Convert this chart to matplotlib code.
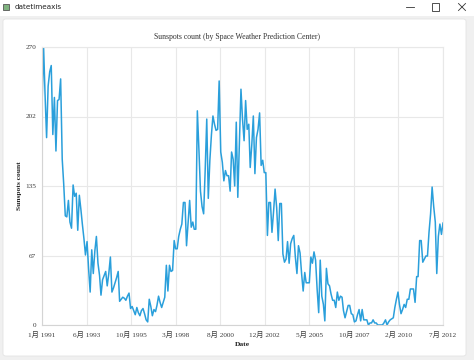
"""
Sunspots count over time, drawn the way the Qt datetimeaxis demo window looks.
"""

import numpy as np
import pandas as pd
import matplotlib
matplotlib.use('Agg')
import matplotlib.pyplot as plt
import matplotlib.dates as mdates
from matplotlib.patches import Rectangle, FancyBboxPatch
from matplotlib.lines import Line2D
from matplotlib.ticker import FuncFormatter, FixedLocator

plt.rcParams['font.family'] = ['Liberation Serif', 'Noto Sans CJK SC']

# monthly sunspot counts, Jan 1991 .. Jul 2012
START_MONTH = '1991-01-01'
COUNTS = [
    213, 270, 225, 182, 232, 246, 252, 185, 221, 169, 218, 219,
    239, 161, 137, 106, 105, 121, 100, 94, 136, 125, 128, 92,
    126, 112, 98, 84, 68, 81, 55, 32, 73, 50, 72, 86,
    60, 48, 29, 44, 48, 52, 38, 50, 66, 32, 36, 41,
    46, 52, 23, 25, 27, 26, 24, 28, 31, 16, 18, 14,
    10, 17, 12, 9, 14, 16, 11, 5, 3, 25, 18, 9,
    15, 13, 19, 28, 22, 17, 22, 27, 58, 33, 58, 52,
    53, 82, 74, 74, 86, 93, 98, 119, 119, 77, 100, 121,
    95, 100, 93, 93, 208, 170, 130, 115, 108, 150, 200, 123,
    160, 185, 203, 195, 189, 190, 237, 168, 158, 140, 150, 145,
    145, 130, 168, 161, 135, 197, 124, 175, 229, 200, 179, 218,
    190, 195, 153, 175, 203, 147, 182, 190, 206, 155, 160, 148,
    148, 87, 119, 119, 90, 110, 132, 114, 82, 118, 118, 69,
    61, 64, 81, 60, 79, 84, 87, 66, 50, 77, 70, 50,
    33, 51, 41, 41, 41, 66, 60, 71, 63, 35, 12, 63,
    28, 20, 4, 55, 40, 38, 30, 24, 24, 17, 32, 24,
    28, 27, 14, 7, 13, 19, 19, 11, 10, 3, 4, 10,
    15, 4, 15, 5, 5, 5, 0, 2, 2, 5, 2, 2,
    0, 0, 0, 0, 2, 5, 0, 3, 5, 6, 7, 17,
    25, 32, 20, 11, 15, 20, 17, 25, 25, 35, 35, 35,
    22, 47, 47, 82, 82, 61, 64, 67, 67, 90, 108, 134,
    115, 100, 50, 86, 98, 88, 99,
]
Y_MAX = 270
Y_TICK_COUNT = 5
X_TICK_COUNT = 10

TITLE = 'Sunspots count (by Space Weather Prediction Center)'
X_TITLE = 'Date'
Y_TITLE = 'Sunspots count'
WINDOW_TITLE = 'datetimeaxis'

W, H = 474, 360
LINE_COLOR = '#2a9fdb'
GRID_COLOR = '#e8e8e8'
LABEL_COLOR = '#3c3c3c'


def fx(x):
    return x / W


def fy(y):
    return 1 - y / H


# every point sits on the 15th of its month
dates = pd.date_range(START_MONTH, periods=len(COUNTS), freq='MS') + pd.Timedelta(days=14)

fig = plt.figure(figsize=(W / 100, H / 100), dpi=100)
fig.patch.set_facecolor('white')

# window frame: title bar, grey client area, white chart card
fig.patches.append(Rectangle((0, 0), 1, fy(16), transform=fig.transFigure,
                             facecolor='#f0f0f0', edgecolor='none', zorder=-10))
fig.patches.append(FancyBboxPatch((fx(3), fy(356)), fx(463), (356 - 19) / H,
                                  boxstyle='round,pad=0,rounding_size=0.006',
                                  transform=fig.transFigure, facecolor='white',
                                  edgecolor='#e4e4e4', linewidth=0.6, zorder=-9))
fig.patches.append(Rectangle((fx(3), fy(10)), fx(6), 6 / H, transform=fig.transFigure,
                             facecolor='#7fb27f', edgecolor='#555555', linewidth=0.6))
fig.text(fx(15), fy(7), WINDOW_TITLE, family='DejaVu Sans', fontsize=5.2,
         color='#222222', va='center', ha='left')
fig.lines.append(Line2D([fx(406), fx(414)], [fy(7), fy(7)], transform=fig.transFigure,
                        color='#333333', linewidth=0.6))
fig.patches.append(Rectangle((fx(431.5), fy(10.5)), fx(7), 7 / H, transform=fig.transFigure,
                             facecolor='none', edgecolor='#333333', linewidth=0.6))
fig.lines.append(Line2D([fx(458.5), fx(465.5)], [fy(3.5), fy(10.5)], transform=fig.transFigure,
                        color='#333333', linewidth=0.6))
fig.lines.append(Line2D([fx(458.5), fx(465.5)], [fy(10.5), fy(3.5)], transform=fig.transFigure,
                        color='#333333', linewidth=0.6))

# chart
ax = fig.add_axes([fx(42), fy(325), fx(401), 278 / H])
ax.set_facecolor('none')
ax.plot(dates, COUNTS, color=LINE_COLOR, linewidth=1.1)

x0, x1 = mdates.date2num(dates[0]), mdates.date2num(dates[-1])
ax.set_xlim(x0, x1)
ax.set_ylim(0, Y_MAX)

ax.xaxis.set_major_locator(FixedLocator(np.linspace(x0, x1, X_TICK_COUNT)))
ax.xaxis.set_major_formatter(FuncFormatter(
    lambda v, p: '%d月 %d' % (mdates.num2date(v).month, mdates.num2date(v).year)))
ax.yaxis.set_major_locator(FixedLocator(np.linspace(0, Y_MAX, Y_TICK_COUNT)))
ax.yaxis.set_major_formatter(FuncFormatter(lambda v, p: '%i' % int(v)))

ax.grid(True, color=GRID_COLOR, linewidth=0.8)
ax.set_axisbelow(True)
for side, sp in ax.spines.items():
    sp.set_color(GRID_COLOR if side in ('top', 'right') else '#d4d4d4')
    sp.set_linewidth(0.8)
ax.tick_params(length=0, pad=4, labelsize=5.2, labelcolor=LABEL_COLOR)

ax.set_xlabel(X_TITLE, fontsize=5.4, fontweight='bold', color='#222222', labelpad=3)
fig.text(fx(20), fy(186), Y_TITLE, rotation=90, fontsize=5.4, fontweight='bold',
         color='#222222', ha='center', va='center')
fig.text(fx(237), fy(37), TITLE, fontsize=5.6, color='#333333', ha='center', va='center')

fig.savefig('out.png', dpi=100)
